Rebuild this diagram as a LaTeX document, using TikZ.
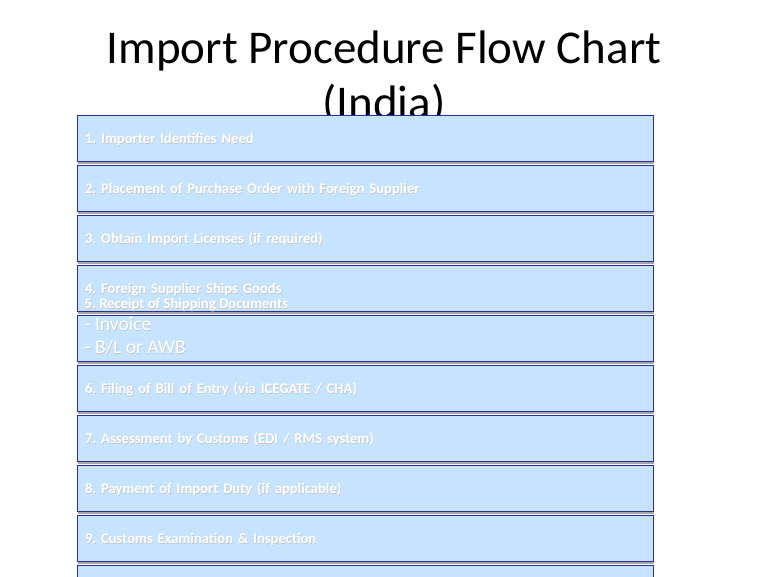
\documentclass[tikz,border=0pt]{standalone}
\usepackage{fontspec}
\setmainfont{Carlito}
\usetikzlibrary{shadows}
\frenchspacing

\definecolor{stepfill}{RGB}{198,228,255}
\definecolor{stepline}{RGB}{40,48,150}
\newcommand{\shtext}[1]{\makebox[0pt][l]{\hspace{0.6pt}\raisebox{-0.7pt}{\color{gray!45}#1}}#1}

\begin{document}
\begin{tikzpicture}[node distance=50pt,
  main node/.style={rectangle,fill=stepfill,draw=stepline,line width=1pt,
    minimum width=576pt,minimum height=46pt,text width=560pt,inner xsep=8pt,
    text height=14pt,text depth=2.5pt,
    align=left,text=white,font=\fontsize{14.6}{16}\selectfont\bfseries,
    drop shadow={shadow xshift=0.5pt,shadow yshift=-3pt,fill=gray!70,opacity=1}}]

  \useasboundingbox (0,0) rectangle (768pt,-576pt);

  \node[font=\fontsize{47}{55}\selectfont,align=center,inner sep=0pt] (title)
    at (384pt,-78pt) {Import Procedure Flow Chart\\(India)};

  \node[main node] (1) at (365pt,-138pt) {\shtext{1. Importer Identifies Need}};
  \node[main node] (2) [below of=1] {\shtext{2. Placement of Purchase Order with Foreign Supplier}};
  \node[main node] (3) [below of=2] {\shtext{3. Obtain Import Licenses (if required)}};
  \node[main node] (4) [below of=3] {\shtext{4. Foreign Supplier Ships Goods}};
  \node[main node] (5) [below of=4] {};
  \node[anchor=north west,align=left,inner sep=0pt,text=white,
    font=\fontsize{19.5}{22.5}\selectfont] (5t) at ([xshift=8pt,yshift=40pt]5.west)
    {{\fontsize{14.6}{16}\selectfont\bfseries\shtext{5. Receipt of Shipping Documents}}\\
     \shtext{- Invoice}\\\shtext{- B/L or AWB}};
  \node[main node] (6) [below of=5] {\shtext{6. Filing of Bill of Entry (via ICEGATE / CHA)}};
  \node[main node] (7) [below of=6] {\shtext{7. Assessment by Customs (EDI / RMS system)}};
  \node[main node] (8) [below of=7] {\shtext{8. Payment of Import Duty (if applicable)}};
  \node[main node] (9) [below of=8] {\shtext{9. Customs Examination \& Inspection}};
  \node[main node] (10) [below of=9] {};
\end{tikzpicture}
\end{document}
